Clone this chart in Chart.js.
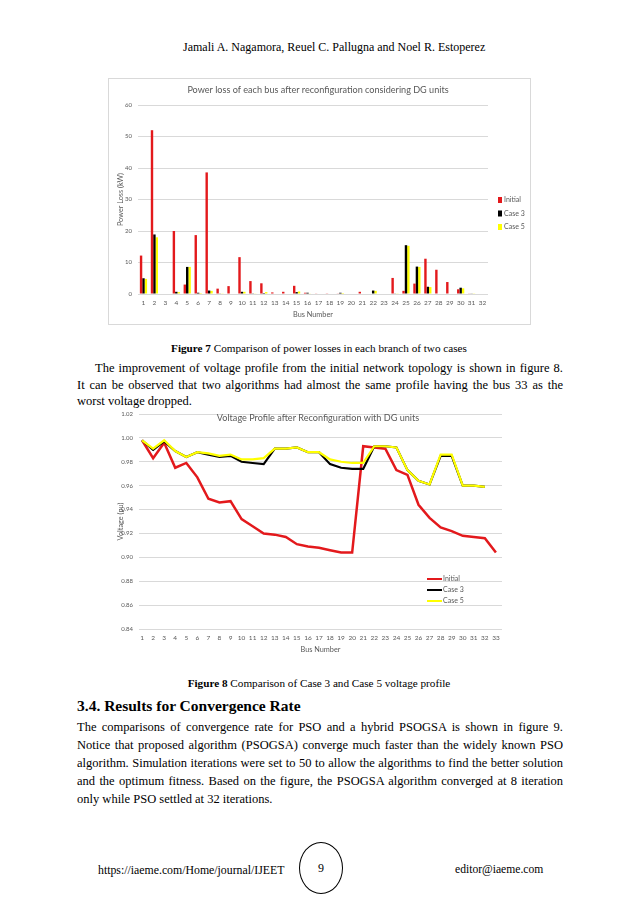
<!DOCTYPE html>
<html><head><meta charset="utf-8">
<script src="https://cdn.jsdelivr.net/npm/chart.js@4.4.0/dist/chart.umd.min.js"></script>
<style>
html,body{margin:0;padding:0;background:#fff;}
body{width:638px;height:902px;position:relative;overflow:hidden;font-family:"Liberation Serif","Times New Roman",serif;color:#000;}
.abs{position:absolute;white-space:nowrap;}
.ln{position:absolute;left:77px;width:486px;font-size:12.5px;line-height:16px;height:16px;text-align:justify;text-align-last:justify;white-space:nowrap;}
.ln.last{text-align-last:left;}
.cap{position:absolute;left:0;width:638px;text-align:center;font-size:11.2px;line-height:14px;white-space:nowrap;}
#box1{position:absolute;left:108px;top:78px;width:423px;height:247px;border:1px solid #d9d9d9;box-sizing:border-box;}
canvas{position:absolute;}
</style>
</head><body>
<div class="abs" style="left:183px;top:39px;font-size:12px;line-height:16px;">Jamali A. Nagamora, Reuel C. Pallugna and Noel R. Estoperez</div>

<div id="box1"></div>
<canvas id="c1" width="424" height="248" style="left:108px;top:78px;"></canvas>

<div class="cap" style="top:341px;"><b>Figure 7</b> Comparison of power losses in each branch of two cases</div>

<div class="ln" style="top:360px;left:95px;width:468px;">The improvement of voltage profile from the initial network topology is shown in figure 8.</div>
<div class="ln" style="top:377px;">It can be observed that two algorithms had almost the same profile having the bus 33 as the</div>
<div class="ln last" style="top:393px;">worst voltage dropped.</div>

<canvas id="c2" width="424" height="266" style="left:108px;top:400px;"></canvas>

<div class="cap" style="top:676px;"><b>Figure 8</b> Comparison of Case 3 and Case 5 voltage profile</div>

<div class="abs" style="left:77px;top:697px;font-size:15.5px;font-weight:bold;line-height:18px;">3.4. Results for Convergence Rate</div>
<div class="ln" style="top:719px;">The comparisons of convergence rate for PSO and a hybrid PSOGSA is shown in figure 9.</div>
<div class="ln" style="top:737px;">Notice that proposed algorithm (PSOGSA) converge much faster than the widely known PSO</div>
<div class="ln" style="top:755px;">algorithm. Simulation iterations were set to 50 to allow the algorithms to find the better solution</div>
<div class="ln" style="top:773px;">and the optimum fitness. Based on the figure, the PSOGSA algorithm converged at 8 iteration</div>
<div class="ln last" style="top:791px;">only while PSO settled at 32 iterations.</div>

<div class="abs" style="left:98px;top:862px;font-size:11.8px;line-height:16px;">https://iaeme.com/Home/journal/IJEET</div>
<div class="abs" style="left:299px;top:842px;width:44px;height:52px;border:1px solid #000;border-radius:50%;box-sizing:border-box;text-align:center;line-height:50px;font-size:12px;">9</div>
<div class="abs" style="left:455px;top:862px;font-size:11.6px;line-height:16px;">editor@iaeme.com</div>

<script>
// ---------- Figure 7 data (power loss, kW) ----------
const lossBuses = ['1','2','3','4','5','6','7','8','9','10','11','12','13','14','15','16','17','18','19','20','21','22','23','24','25','26','27','28','29','30','31','32'];
const lossInitial = [12.2,52.0,0,20.0,3.0,18.7,38.6,1.7,2.5,11.7,4.1,3.4,0.5,0.7,2.6,0.4,0.2,0.1,0.2,0,0.7,0,0,5.1,1.0,3.3,11.2,7.7,3.8,1.5,0.2,0];
const lossCase3   = [5.0,18.9,0,0.7,8.6,0.4,1.1,0.2,0,0.7,0.1,0.3,0,0,0.6,0.4,0,0,0.4,0,0,1.1,0,0.2,15.5,8.7,2.3,0,0,2.0,0.2,0];
const lossCase5   = [4.8,18.0,0,0.6,8.6,0.3,1.0,0.1,0,0.7,0.2,0.6,0,0,0.8,0.2,0,0,0.3,0,0,1.0,0,0.1,15.3,8.6,2.2,0,0,1.8,0.1,0];
const lossTicks = [0,10,20,30,40,50,60];

// ---------- Figure 8 data (voltage, pu) ----------
const voltBuses = [1,2,3,4,5,6,7,8,9,10,11,12,13,14,15,16,17,18,19,20,21,22,23,24,25,26,27,28,29,30,31,32,33];
const voltInitial = [0.998,0.983,0.996,0.975,0.979,0.967,0.949,0.946,0.947,0.932,0.926,0.920,0.919,0.917,0.911,0.909,0.908,0.906,0.904,0.904,0.993,0.992,0.991,0.973,0.969,0.944,0.933,0.925,0.922,0.918,0.917,0.916,0.904];
const voltCase3   = [0.998,0.990,0.997,0.989,0.984,0.988,0.986,0.984,0.985,0.980,0.979,0.978,0.991,0.991,0.992,0.988,0.988,0.978,0.975,0.974,0.974,0.993,0.993,0.992,0.973,0.964,0.961,0.985,0.985,0.960,0.960,0.959,null];
const voltCase5   = [0.998,0.991,0.998,0.989,0.984,0.988,0.987,0.985,0.986,0.982,0.982,0.983,0.991,0.991,0.992,0.988,0.988,0.982,0.980,0.979,0.979,0.993,0.993,0.992,0.973,0.964,0.961,0.986,0.986,0.960,0.960,0.959,null];
const voltTicks = [0.84,0.86,0.88,0.90,0.92,0.94,0.96,0.98,1.00,1.02];

const RED='#e3191c', BLACK='#000000', YEL='#ffff00';
const GRAY='#595959', GRID='#d9d9d9', FONT='Lato';

function textPlugin(id, text, x, y, size){
  return {id, afterDraw(chart){
    const ctx=chart.ctx; ctx.save();
    ctx.font = size+'px '+FONT; ctx.fillStyle=GRAY; ctx.textAlign='center'; ctx.textBaseline='middle';
    ctx.fillText(text,x,y); ctx.restore();
  }};
}
function legendPlugin(id, items, x, y0, dy, kind){
  return {id, afterDraw(chart){
    const ctx=chart.ctx; ctx.save();
    ctx.font='7px '+FONT; ctx.textBaseline='middle'; ctx.textAlign='left';
    items.forEach((it,i)=>{
      const y=y0+i*dy;
      if(kind==='box'){ ctx.fillStyle=it.color; ctx.fillRect(x,y-3,4,6); ctx.fillStyle=GRAY; ctx.fillText(it.label,x+6,y); }
      else { ctx.strokeStyle=it.color; ctx.lineWidth=2; ctx.beginPath(); ctx.moveTo(x,y); ctx.lineTo(x+15,y); ctx.stroke(); ctx.fillStyle=GRAY; ctx.fillText(it.label,x+16,y); }
    });
    ctx.restore();
  }};
}

// ---------- Figure 7 ----------
new Chart(document.getElementById('c1'), {
  type:'bar',
  data:{labels:lossBuses, datasets:[
    {label:'Initial', data:lossInitial, backgroundColor:RED},
    {label:'Case 3', data:lossCase3, backgroundColor:BLACK},
    {label:'Case 5', data:lossCase5, backgroundColor:YEL}
  ]},
  options:{
    responsive:false, animation:false, devicePixelRatio:1,
    layout:{padding:{top:27,right:44,bottom:0,left:0}},
    datasets:{bar:{categoryPercentage:0.66, barPercentage:1, borderWidth:0}},
    plugins:{legend:{display:false}, title:{display:false}, tooltip:{enabled:false}},
    scales:{
      x:{grid:{display:false, drawTicks:false}, border:{display:false},
         ticks:{color:GRAY, font:{family:FONT,size:6.5}, padding:5, maxRotation:0, autoSkip:false},
         title:{display:true, text:'Bus Number', color:GRAY, font:{family:FONT,size:7.3}, padding:{top:0,bottom:7}},
         afterFit(s){ s.height=32; }},
      y:{min:0, max:60, afterBuildTicks(s){ s.ticks = lossTicks.map(v=>({value:v})); },
         ticks:{color:GRAY, font:{family:FONT,size:6}, padding:6},
         grid:{color:GRID, drawTicks:false}, border:{display:false},
         title:{display:true, text:'Power Loss (kW)', color:GRAY, font:{family:FONT,size:7.3}, padding:{top:8,bottom:0}},
         afterFit(s){ s.width=30; }}
    }
  },
  plugins:[
    textPlugin('t1','Power loss of each bus after reconfiguration considering DG units',210,12,9.1),
    legendPlugin('l1',[{label:'Initial',color:RED},{label:'Case 3',color:BLACK},{label:'Case 5',color:YEL}],390,122,13.5,'box')
  ]
});

// ---------- Figure 8 ----------
const toXY = arr => voltBuses.map((b,i)=>({x:b, y:arr[i]}));
new Chart(document.getElementById('c2'), {
  type:'line',
  data:{datasets:[
    {label:'Initial', data:toXY(voltInitial), borderColor:RED, borderWidth:2.5, order:2},
    {label:'Case 3', data:toXY(voltCase3), borderColor:BLACK, borderWidth:2.2, order:1},
    {label:'Case 5', data:toXY(voltCase5), borderColor:YEL, borderWidth:2.2, order:0}
  ]},
  options:{
    responsive:false, animation:false, devicePixelRatio:1,
    layout:{padding:{top:14,right:30,bottom:0,left:0}},
    elements:{point:{radius:0}, line:{tension:0}},
    plugins:{legend:{display:false}, title:{display:false}, tooltip:{enabled:false}},
    scales:{
      x:{type:'linear', min:0.723, max:33.55,
         afterBuildTicks(s){ s.ticks = voltBuses.map(v=>({value:v})); },
         grid:{display:false, drawTicks:false}, border:{display:false},
         ticks:{color:GRAY, font:{family:FONT,size:6.5}, padding:5, maxRotation:0, autoSkip:false, callback:v=>String(v)},
         title:{display:true, text:'Bus Number', color:GRAY, font:{family:FONT,size:7.3}, padding:{top:0,bottom:12}},
         afterFit(s){ s.height=37; }},
      y:{min:0.84, max:1.02, afterBuildTicks(s){ s.ticks = voltTicks.map(v=>({value:v})); },
         ticks:{color:GRAY, font:{family:FONT,size:6}, padding:6, callback:v=>Number(v).toFixed(2)},
         grid:{color:GRID, drawTicks:false}, border:{display:false},
         title:{display:true, text:'Voltage (pu)', color:GRAY, font:{family:FONT,size:7.3}, padding:{top:8,bottom:0}},
         afterFit(s){ s.width=31; }}
    }
  },
  plugins:[
    textPlugin('t2','Voltage Profile after Reconfiguration with DG units',210,18,9.1),
    legendPlugin('l2',[{label:'Initial',color:RED},{label:'Case 3',color:BLACK},{label:'Case 5',color:YEL}],319,179,11,'line')
  ]
});
</script>
</body></html>
